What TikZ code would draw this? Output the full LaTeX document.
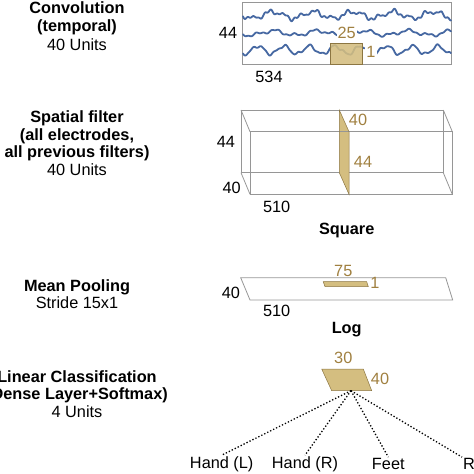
\documentclass[tikz,border=0pt]{standalone}
\usepackage{fontspec}
\setmainfont{Liberation Sans}
\definecolor{waveblue}{RGB}{70,104,162}
\definecolor{tanfill}{RGB}{212,190,128}
\definecolor{tanborder}{RGB}{140,118,66}
\definecolor{tantext}{RGB}{160,128,64}
\definecolor{framegray}{RGB}{150,150,150}
\begin{document}
\begin{tikzpicture}[x=1pt,y=-1pt,
  font=\fontsize{16.3}{17.5}\selectfont,
  lbl/.style={align=center, inner sep=0pt},
  dimlbl/.style={inner sep=1pt},
  tandim/.style={text=tantext, inner sep=1pt},
  opname/.style={font=\fontsize{16.3}{17.5}\selectfont\bfseries, inner sep=0pt},
  wave/.style={draw=waveblue, line width=1.8pt, line join=round, line cap=round},
  frame/.style={draw=framegray, line width=0.8pt},
  slab/.style={fill=tanfill, draw=tanborder, line width=0.5pt},
  dots/.style={dotted, line width=1.3pt}]
\useasboundingbox (0,0) rectangle (474,474);

% ---------- left labels ----------
\node[lbl] (convlbl) at (77,26) {\textbf{Convolution}\\[1pt]\textbf{(temporal)}\\[1pt]40 Units};
\node[lbl] (spatlbl) at (77,143) {\textbf{Spatial filter}\\\textbf{(all electrodes,}\\\textbf{all previous filters)}\\40 Units};
\node[lbl] (poollbl) at (77,294) {\textbf{Mean Pooling}\\Stride 15x1};
\node[lbl] (linlbl) at (77,394) {\textbf{Linear Classification}\\\textbf{(Dense Layer+Softmax)}\\4 Units};

% ---------- convolution ----------
\draw[frame, fill=white] (242.7,2) rectangle (451,64);
\draw[wave] plot[domain=0:208, samples=260] ({243+\x}, {15+3.2*sin(9*\x)+1.8*sin(23*\x+40)+0.9*sin(61*\x+10)+0.6*sin(47*\x)});
\draw[wave] plot[domain=0:208, samples=260] ({243+\x}, {33+2.2*sin(8*\x+30)+1.4*sin(19*\x)+0.7*sin(47*\x+20)});
\draw[wave] plot[domain=0:208, samples=260] ({243+\x}, {50+4*sin(14*\x+60)+1.3*sin(31*\x)+0.5*sin(57*\x)});
\fill[tanfill, opacity=0.88] (330.7,43) rectangle (362.3,64);
\draw[tanborder, line width=0.5pt] (330.7,43) rectangle (362.3,64);
\node[dimlbl] (c44) at (228,33) {44};
\node[dimlbl] (c534) at (269,77) {534};
\node[tandim, fill=white] (c25) at (346.7,33) {25};
\node[tandim, fill=white] (c1) at (371,52) {1};

% ---------- spatial filter ----------
\draw[frame] (241,110) rectangle (443.3,172.7);
\fill[tanfill] (339.3,110) -- (349,131.7) -- (349,194.3) -- (339.3,172.7) -- cycle;
\draw[frame] (250,131.7) rectangle (452.3,194.3);
\draw[frame] (241,110) -- (250,131.7) (443.3,110) -- (452.3,131.7)
  (241,172.7) -- (250,194.3) (443.3,172.7) -- (452.3,194.3);
\draw[draw=tanborder, line width=0.5pt] (339.3,110) -- (349,131.7) -- (349,194.3) -- (339.3,172.7) -- cycle;
\node[dimlbl] (s44) at (226,141.7) {44};
\node[dimlbl] (s40) at (231.7,188.3) {40};
\node[dimlbl] (s510) at (276.7,206.7) {510};
\node[tandim] (s40t) at (358,120) {40};
\node[tandim] (s44t) at (363,161.7) {44};
\node[opname] (square) at (346.7,230.7) {Square};

% ---------- mean pooling ----------
\draw[frame] (240.7,277.7) -- (445.7,277.7) -- (452.7,300) -- (250,300) -- cycle;
\draw[slab] (323.3,281.7) -- (366.7,281.7) -- (368.3,286.7) -- (325,286.7) -- cycle;
\node[tandim, fill=white] (p75) at (343.3,270.7) {75};
\node[tandim] (p1) at (375,283.3) {1};
\node[dimlbl] (p40) at (231,292.7) {40};
\node[dimlbl] (p510) at (276.7,311) {510};
\node[opname] (log) at (346.7,330) {Log};

% ---------- dense ----------
\draw[slab] (321.7,369) -- (363.3,369) -- (371.7,390.7) -- (331.7,390.7) -- cycle;
\node[tandim] (d30) at (343.3,358.3) {30};
\node[tandim] (d40) at (380,379.3) {40};
\coordinate (apex) at (351,390.7);
\node[dimlbl] (hl) at (221.7,464) {Hand (L)};
\node[dimlbl] (hr) at (305,464) {Hand (R)};
\node[dimlbl] (feet) at (388.3,464) {Feet};
\node[dimlbl] (rest) at (480,464) {Rest};
\draw[dots] (apex) -- (hl.north);
\draw[dots] (apex) -- (hr.north);
\draw[dots] (apex) -- (feet.north);
\draw[dots] (apex) -- (rest.north west);
\end{tikzpicture}
\end{document}
